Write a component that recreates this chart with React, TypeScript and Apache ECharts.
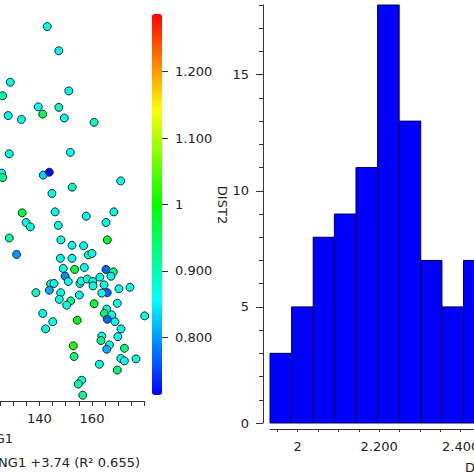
import React, { useEffect, useRef } from "react";
import * as echarts from "echarts";

// Scatter: LENG1 (x) against DIST2 (y), coloured by a third measure
const lengValues = [
  143.0, 147.4, 129.0, 126.1, 151.2, 139.6, 147.4, 141.3, 128.2, 133.2,
  149.5, 160.8, 128.6, 151.8, 125.7, 126.1, 141.5, 143.8, 170.9, 152.5,
  144.8, 133.5, 146.0, 135.0, 136.6, 147.2, 157.8, 168.3, 165.3, 128.6,
  165.8, 131.4, 148.2, 152.4, 156.8, 158.6, 160.0, 148.0, 152.4, 153.4,
  149.1, 157.1, 165.3, 168.1, 149.8, 151.0, 144.3, 145.6, 143.8, 138.7,
  148.1, 155.4, 155.9, 158.2, 160.3, 160.4, 163.0, 164.6, 167.2, 165.8,
  163.7, 170.2, 174.4, 147.6, 151.9, 155.2, 150.4, 160.8, 169.6, 141.3,
  145.1, 142.4, 154.4, 165.6, 164.7, 167.5, 165.8, 168.7, 171.0, 180.0,
  163.7, 163.4, 166.6, 165.6, 169.8, 172.3, 152.9, 153.2, 162.8, 170.9,
  172.3, 176.7, 169.6, 156.1, 154.8, 156.5,
];
const dist2Values = [
  2.574, 2.524, 2.459, 2.431, 2.441, 2.408, 2.407, 2.393, 2.390, 2.382,
  2.385, 2.376, 2.311, 2.314, 2.271, 2.262, 2.267, 2.273, 2.255, 2.242,
  2.229, 2.189, 2.191, 2.169, 2.160, 2.163, 2.182, 2.191, 2.169, 2.137,
  2.133, 2.103, 2.133, 2.122, 2.121, 2.102, 2.105, 2.095, 2.095, 2.072,
  2.074, 2.076, 2.072, 2.067, 2.058, 2.047, 2.042, 2.043, 2.029, 2.024,
  2.024, 2.043, 2.048, 2.052, 2.047, 2.038, 2.056, 2.040, 2.058, 2.024,
  2.023, 2.032, 2.035, 2.010, 2.007, 2.019, 1.998, 2.001, 2.002, 1.981,
  1.964, 1.949, 1.967, 1.990, 1.981, 1.978, 1.969, 1.964, 1.949, 1.976,
  1.934, 1.925, 1.916, 1.907, 1.933, 1.909, 1.914, 1.892, 1.876, 1.888,
  1.883, 1.887, 1.864, 1.843, 1.835, 1.812,
];
const colourValues = [
  0.87, 0.87, 0.87, 0.91, 0.87, 0.86, 0.89, 0.95, 0.87, 0.87,
  0.87, 0.89, 0.87, 0.87, 0.87, 0.92, 0.83, 0.72, 0.87, 0.89,
  0.87, 0.97, 0.87, 0.87, 0.87, 0.87, 0.87, 0.87, 0.87, 0.91,
  0.98, 0.80, 0.87, 0.87, 0.87, 0.89, 0.87, 0.87, 0.87, 0.97,
  0.87, 0.87, 0.77, 0.93, 0.79, 0.87, 0.87, 0.87, 0.81, 0.89,
  0.87, 0.87, 0.87, 0.89, 0.87, 0.87, 0.87, 0.87, 0.87, 0.77,
  0.87, 0.87, 0.87, 0.87, 0.92, 0.87, 0.87, 0.97, 0.87, 0.87,
  0.87, 0.87, 1.0, 0.87, 0.94, 0.87, 0.77, 0.87, 0.87, 0.87,
  0.87, 0.92, 0.87, 0.81, 0.87, 0.93, 1.02, 0.93, 0.87, 0.87,
  0.87, 0.88, 0.93, 0.89, 0.90, 0.92,
];

// Colour scale
const colourMin = 0.713;
const colourMax = 1.287;
const colourTicks = [0.8, 0.9, 1, 1.1, 1.2];

// Histogram of DIST2
const binEdges = [1.932, 1.985, 2.038, 2.09, 2.143, 2.196, 2.249, 2.302, 2.354, 2.407, 2.46];
const binCounts = [3, 5, 8, 9, 11, 18, 13, 7, 5, 7];
const histXLabels = [2, 2.2, 2.4];
const histYLabels = [0, 5, 10, 15];

const FONT = "DejaVu Sans";
const INK = "#222";

const fmt = (v: number) =>
  Math.abs(v - Math.round(v)) < 1e-9 ? String(Math.round(v)) : v.toFixed(3);

function steps(from: number, to: number, step: number): number[] {
  const out: number[] = [];
  const n = Math.round((to - from) / step);
  for (let i = 0; i <= n; i++) out.push(+(from + i * step).toFixed(4));
  return out;
}

export default function App() {
  const ref = useRef<HTMLDivElement>(null);

  useEffect(() => {
    if (!ref.current) return;
    const chart = echarts.init(ref.current, undefined, { renderer: "svg" });

    const scatterData = lengValues.map((l, i) => [l, dist2Values[i], colourValues[i]]);
    const histData = binCounts.map((c, i) => [binEdges[i], binEdges[i + 1], c]);

    const labelStyle = { fontFamily: FONT, fontSize: 13, color: INK };
    const lineStyle = { color: "#333", width: 1 };

    const option: any = {
      animation: false,
      backgroundColor: "#fff",
      grid: [
        { left: -13.4, top: 14, width: 158.1, height: 387, outerBoundsMode: "none", containLabel: false },
        { left: 152, top: 14, width: 10, height: 381, outerBoundsMode: "none", containLabel: false },
        { left: 270, top: 5, width: 251.8, height: 418, outerBoundsMode: "none", containLabel: false },
      ],
      xAxis: [
        {
          gridIndex: 0,
          type: "value",
          min: 120,
          max: 180,
          interval: 20,
          axisLine: { show: true, onZero: false, lineStyle },
          axisTick: { show: true, length: 5, lineStyle },
          minorTick: { show: true, splitNumber: 4, length: 5, lineStyle },
          axisLabel: { ...labelStyle, margin: 11, showMaxLabel: false },
          splitLine: { show: false },
        },
        { gridIndex: 1, type: "value", min: 0, max: 1, show: false },
        {
          gridIndex: 2,
          type: "value",
          min: 1.932,
          max: 2.55,
          offset: 6,
          axisLine: { show: true, onZero: false, lineStyle },
          axisTick: { show: true, length: 3, lineStyle, customValues: steps(1.95, 2.5, 0.05) },
          axisLabel: { ...labelStyle, margin: 11, customValues: histXLabels, formatter: fmt },
          splitLine: { show: false },
        },
        {
          gridIndex: 2,
          type: "value",
          min: 1.932,
          max: 2.55,
          offset: 6,
          axisLine: { show: false },
          axisTick: { show: true, length: 5, lineStyle, customValues: steps(2, 2.5, 0.1) },
          axisLabel: { show: false },
          splitLine: { show: false },
        },
      ],
      yAxis: [
        { gridIndex: 0, type: "value", min: 1.8, max: 2.6, show: false },
        {
          gridIndex: 1,
          type: "value",
          position: "right",
          min: colourMin,
          max: colourMax,
          axisLine: { show: false },
          axisTick: { show: true, length: 3, lineStyle, customValues: steps(0.72, 1.28, 0.02) },
          axisLabel: { show: false },
          splitLine: { show: false },
        },
        {
          gridIndex: 1,
          type: "value",
          position: "right",
          min: colourMin,
          max: colourMax,
          axisLine: { show: false },
          axisTick: { show: true, length: 6, lineStyle, customValues: colourTicks },
          axisLabel: { ...labelStyle, margin: 13, customValues: colourTicks, formatter: fmt },
          splitLine: { show: false },
        },
        {
          gridIndex: 2,
          type: "value",
          position: "left",
          min: 0,
          max: 18,
          offset: 7,
          axisLine: { show: true, onZero: false, lineStyle },
          axisTick: { show: true, length: 4, lineStyle, customValues: steps(0, 18, 1) },
          axisLabel: { show: false },
          splitLine: { show: false },
        },
        {
          gridIndex: 2,
          type: "value",
          position: "left",
          min: 0,
          max: 18,
          offset: 7,
          axisLine: { show: false },
          axisTick: { show: true, length: 7, lineStyle, customValues: histYLabels },
          axisLabel: { ...labelStyle, margin: 14, customValues: histYLabels, formatter: fmt },
          splitLine: { show: false },
        },
      ],
      visualMap: {
        type: "continuous",
        seriesIndex: 0,
        dimension: 2,
        min: colourMin,
        max: colourMax,
        orient: "vertical",
        left: 152,
        top: 14,
        padding: 0,
        itemWidth: 10,
        itemHeight: 381,
        calculable: false,
        hoverLink: false,
        showLabel: false,
        text: null,
        inRange: { color: ["#0000ff", "#00ffff", "#00ff00", "#ffff00", "#ff0000"] },
      },
      series: [
        {
          type: "scatter",
          xAxisIndex: 0,
          yAxisIndex: 0,
          symbol: "circle",
          symbolSize: 8,
          clip: false,
          itemStyle: { borderColor: "#1e2a2a", borderWidth: 1, opacity: 1 },
          data: scatterData,
        },
        {
          type: "custom",
          xAxisIndex: 2,
          yAxisIndex: 3,
          data: histData,
          renderItem: (_params: any, api: any) => {
            const top = api.coord([api.value(0), api.value(2)]);
            const bottom = api.coord([api.value(1), 0]);
            return {
              type: "rect",
              shape: { x: top[0], y: top[1], width: bottom[0] - top[0], height: bottom[1] - top[1] },
              style: { fill: "#0000ff", stroke: "#000046", lineWidth: 1 },
            };
          },
        },
      ],
      graphic: [
        {
          type: "text",
          x: 222,
          y: 205,
          rotation: -Math.PI / 2,
          style: { text: "DIST2", ...labelStyle, fill: INK, align: "center", verticalAlign: "middle" },
        },
        {
          type: "text",
          x: 13,
          y: 438,
          style: { text: "LENG1", ...labelStyle, fill: INK, align: "right", verticalAlign: "middle" },
        },
        {
          type: "text",
          x: 140,
          y: 462,
          style: {
            text: "DIST2 = -0.0103 LENG1 +3.74 (R² 0.655)",
            ...labelStyle,
            fill: INK,
            align: "right",
            verticalAlign: "middle",
          },
        },
        {
          type: "text",
          x: 465,
          y: 467,
          style: { text: "DIST2", ...labelStyle, fill: INK, align: "left", verticalAlign: "middle" },
        },
      ],
    };

    chart.setOption(option);
    return () => chart.dispose();
  }, []);

  return (
    <div
      ref={ref}
      style={{ position: "fixed", left: 0, top: 0, width: 474, height: 474, background: "#fff" }}
    />
  );
}
